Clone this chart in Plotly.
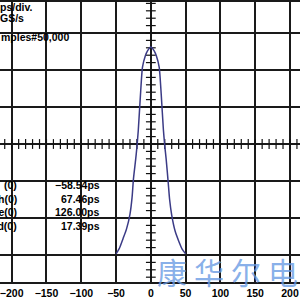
import plotly.graph_objects as go
import numpy as np

# Histogram curve (time in ps, amplitude in screen divisions; 0 = centre line)
t_ps = [-50, -45, -40, -35, -30, -27, -25, -22, -20, -18, -15, -12, -8, -5, 0,
        5, 8, 12, 15, 18, 20, 22, 25, 27, 30, 35, 40, 45, 50]
amp_div = [-2.97, -2.81, -2.56, -2.30, -1.90, -1.45, -0.95, -0.45, -0.08, 0.38, 1.30, 2.08, 2.38, 2.51, 2.62,
           2.51, 2.38, 2.08, 1.32, 0.40, -0.05, -0.40, -1.05, -1.50, -1.92, -2.36, -2.62, -2.84, -2.97]

x_ticks = [-200, -150, -100, -50, 0, 50, 100, 150, 200]

header_lines = ["ps/div.", "GS/s"]
samples_text = "mples#50,000"
stat_labels = ["(0)", "h(0)", "ge(0)", "nd(0)"]
stat_values = ["\u221258.54ps", "67.46ps", "126.00ps", "17.39ps"]
watermark = ["康", "华", "尔", "电"]

X_RANGE = [-216.8, 214.4]
Y_RANGE = [-3.730, 3.838]

fig = go.Figure()

# minor tick crosses on centre lines
hx = np.arange(-210, 211, 10)
fig.add_trace(go.Scatter(x=hx, y=np.zeros_like(hx), mode="markers",
                         marker=dict(symbol="line-ns", size=7, line=dict(width=1.2, color="#111")),
                         hoverinfo="skip", showlegend=False))
vy = np.arange(-18, 20) * 0.2
fig.add_trace(go.Scatter(x=np.zeros_like(vy), y=vy, mode="markers",
                         marker=dict(symbol="line-ew", size=7, line=dict(width=1.2, color="#111")),
                         hoverinfo="skip", showlegend=False))

fig.add_trace(go.Scatter(x=t_ps, y=amp_div, mode="lines",
                         line=dict(color="#3b3b86", width=1.5, shape="spline", smoothing=0.6),
                         showlegend=False))

fig.update_layout(
    width=300, height=300,
    margin=dict(l=0, r=0, t=2, b=18),
    paper_bgcolor="white", plot_bgcolor="white",
    showlegend=False,
    xaxis=dict(range=X_RANGE, tickmode="array", tickvals=x_ticks,
               ticktext=["<b>" + (("\u2212" + str(-v)) if v < 0 else str(v)) + "</b>" for v in x_ticks],
               ticklabeloverflow="allow", automargin=False,
               showgrid=True, gridcolor="#1a1a1a", gridwidth=2,
               zeroline=True, zerolinecolor="#1a1a1a", zerolinewidth=2,
               showline=True, mirror=True, linecolor="#1a1a1a", linewidth=2,
               ticks="", tickfont=dict(family="Liberation Sans", size=10.5, color="black")),
    yaxis=dict(range=Y_RANGE, dtick=1, tick0=0, showticklabels=False,
               showgrid=True, gridcolor="#1a1a1a", gridwidth=2,
               zeroline=True, zerolinecolor="#1a1a1a", zerolinewidth=2,
               showline=False, ticks=""),
)

def py2paper(py):
    return (282 - py) / 280

font = dict(family="Liberation Sans", size=10.5, color="black")
anns = []
for i, txt in enumerate(header_lines):
    anns.append(dict(x=-2 / 300, y=py2paper(7 + 11 * i), xref="paper", yref="paper", text="<b>" + txt + "</b>",
                     showarrow=False, xanchor="left", yanchor="middle", font=font))
anns.append(dict(x=-1 / 300, y=py2paper(37), xref="paper", yref="paper", text="<b>" + samples_text + "</b>",
                 showarrow=False, xanchor="left", yanchor="middle", font=font))
for i, (lab, val) in enumerate(zip(stat_labels, stat_values)):
    yy = py2paper(185 + 13.7 * i)
    anns.append(dict(x=19 / 300, y=yy, xref="paper", yref="paper", text="<b>" + lab + "</b>",
                     showarrow=False, xanchor="right", yanchor="middle", font=font))
    anns.append(dict(x=102 / 300, y=yy, xref="paper", yref="paper", text="<b>" + val + "</b>",
                     showarrow=False, xanchor="right", yanchor="middle", font=font))
for i, ch in enumerate(watermark):
    anns.append(dict(x=(172 + 37 * i) / 300, y=py2paper(271), xref="paper", yref="paper", text=ch,
                     showarrow=False, xanchor="center", yanchor="middle",
                     font=dict(family="Noto Sans CJK SC", size=30, color="rgba(105,155,228,0.8)")))
fig.update_layout(annotations=anns)

fig.write_html("out.html")
